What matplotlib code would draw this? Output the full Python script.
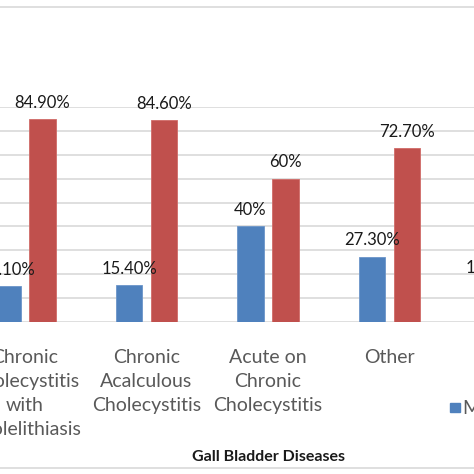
import matplotlib
matplotlib.use("Agg")
import matplotlib.pyplot as plt
from matplotlib.lines import Line2D
import numpy as np

plt.rcParams['font.family'] = ['Lato', 'DejaVu Sans']

categories = ["Chronic\nCholecystitis\nwith\nCholelithiasis",
              "Chronic\nAcalculous\nCholecystitis",
              "Acute on\nChronic\nCholecystitis",
              "Other",
              ""]
male = [15.1, 15.4, 40.0, 27.3, 15.8]
female = [84.9, 84.6, 60.0, 72.7, 84.2]
male_labels = ["15.10%", "15.40%", "40%", "27.30%", "15.80%"]
female_labels = ["84.90%", "84.60%", "60%", "72.70%", "84.20%"]
series_names = ["Male", "Female"]
xlabel = "Gall Bladder Diseases"

W = H = 474
fig = plt.figure(figsize=(4.74, 4.74), dpi=100)
base_px, top_px = 322, 107
ax = fig.add_axes([0, 1 - base_px / H, 1, (base_px - top_px) / H])

x = np.arange(len(categories))
bw = 0.222
off = 0.144
blue, red = "#4f81bd", "#c0504d"
b1 = ax.bar(x - off, male, bw, color=blue, edgecolor="#6b95c9", linewidth=0.6)
b2 = ax.bar(x + off, female, bw, color=red, edgecolor="#d06b68", linewidth=0.6)

for bars, labels, clip in ((b1, male_labels, False), (b2, female_labels, True)):
    for rect, lab in zip(bars, labels):
        ax.annotate(lab, (rect.get_x() + rect.get_width() / 2, rect.get_height()),
                    xytext=(0, 6), textcoords="offset points", ha="center", va="bottom",
                    fontsize=12, color="#1a1a1a", annotation_clip=clip)

ax.set_xticks(x)
ax.set_xticklabels(categories, fontsize=14, color="#595959", linespacing=1.5, va="top")
ax.tick_params(axis="x", pad=16, bottom=False)
ax.set_xlim(-25 / 121.5, (W - 25) / 121.5)
ax.set_ylim(0, 90)
ax.set_yticks(np.arange(0, 91, 10))
ax.yaxis.grid(True, color="#d9d9d9", linewidth=1.2)
ax.set_axisbelow(True)
for s in ax.spines.values():
    s.set_visible(False)
ax.tick_params(axis="y", left=False, labelleft=False)

fig.text(268 / W, 1 - 457 / H, xlabel, ha="center", va="center",
         fontsize=11.5, fontweight="bold", color="#1a1a1a")

# legend (partly outside the crop)
fig.patches.append(plt.Rectangle((450 / W, 1 - 412 / H), 10 / W, 9 / H,
                                 transform=fig.transFigure, color=blue))
fig.text(462 / W, 1 - 408 / H, series_names[0], ha="left", va="center",
         fontsize=14, color="#595959")

# chart border lines
fig.add_artist(Line2D([0, 1], [1 - 7 / H, 1 - 7 / H], transform=fig.transFigure,
                      color="#d9d9d9", linewidth=1.2))
fig.add_artist(Line2D([0, 1], [1 - 468 / H, 1 - 468 / H], transform=fig.transFigure,
                      color="#d9d9d9", linewidth=1.2))

fig.savefig("out.png", dpi=100)
